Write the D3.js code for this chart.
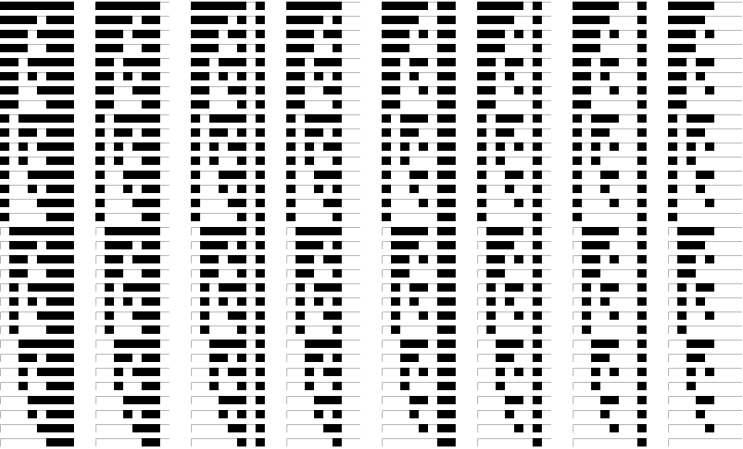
<!DOCTYPE html>
<html>
<head>
<meta charset="utf-8">
<script src="https://cdn.jsdelivr.net/npm/d3@7"></script>
<style>
html,body{margin:0;padding:0;background:#fff;}
svg{display:block;}
</style>
</head>
<body>
<svg id="chart" width="743" height="449"></svg>
<script>
// Each column holds 32 byte values (top row first); black cells are 1-bits, MSB on the left.
const col0 = [255,247,239,231,223,215,207,199,191,183,175,167,159,151,143,135,127,119,111,103,95,87,79,71,63,55,47,39,31,23,15,7];
const col1 = [254,246,238,230,222,214,206,198,190,182,174,166,158,150,142,134,126,118,110,102,94,86,78,70,62,54,46,38,30,22,14,6];
const col2 = [253,245,237,229,221,213,205,197,189,181,173,165,157,149,141,133,125,117,109,101,93,85,77,69,61,53,45,37,29,21,13,5];
const col3 = [252,244,236,228,220,212,204,196,188,180,172,164,156,148,140,132,124,116,108,100,92,84,76,68,60,52,44,36,28,20,12,4];
const col4 = [251,243,235,227,219,211,203,195,187,179,171,163,155,147,139,131,123,115,107,99,91,83,75,67,59,51,43,35,27,19,11,3];
const col5 = [250,242,234,226,218,210,202,194,186,178,170,162,154,146,138,130,122,114,106,98,90,82,74,66,58,50,42,34,26,18,10,2];
const col6 = [249,241,233,225,217,209,201,193,185,177,169,161,153,145,137,129,121,113,105,97,89,81,73,65,57,49,41,33,25,17,9,1];
const col7 = [248,240,232,224,216,208,200,192,184,176,168,160,152,144,136,128,120,112,104,96,88,80,72,64,56,48,40,32,24,16,8,0];
const columns = [col0, col1, col2, col3, col4, col5, col6, col7];
const bits = [0,1,2,3,4,5,6,7];

const W = 743, H = 449;
const svg = d3.select("#chart");

const x = d3.scaleBand().domain(d3.range(columns.length)).range([0, 742]).paddingInner(0.225).paddingOuter(0);
const bx = d3.scaleBand().domain(bits).range([0, x.bandwidth()]).padding(0);
const rowsN = col0.length;
const y = d3.scaleBand().domain(d3.range(rowsN)).range([1.7, 1.7 + rowsN * 14.08]).paddingInner(0).paddingOuter(0);
const barH = y.step() * 0.59;

function runs(v) {
  const out = [];
  let start = null;
  bits.forEach(b => {
    const on = (v >> (7 - b)) & 1;
    if (on && start === null) start = b;
    if (!on && start !== null) { out.push([start, b - 1]); start = null; }
  });
  if (start !== null) out.push([start, 7]);
  return out;
}

const g = svg.selectAll("g.col").data(columns).join("g")
  .attr("class", "col")
  .attr("transform", (d, i) => `translate(${x(i)},0)`);

const row = g.selectAll("g.row").data(d => d.map((v, r) => ({v, r}))).join("g")
  .attr("class", "row")
  .attr("transform", d => `translate(0,${y(d.r)})`);

row.append("path")
  .attr("fill", "none")
  .attr("stroke", "#b8b8b8")
  .attr("stroke-width", 1)
  .attr("d", `M0.5,${barH}V0.5H${x.bandwidth()}`);

row.selectAll("rect").data(d => runs(d.v)).join("rect")
  .attr("x", d => bx(d[0]))
  .attr("y", 0)
  .attr("width", d => bx(d[1]) + bx.bandwidth() - bx(d[0]))
  .attr("height", barH)
  .attr("fill", "#000");
</script>
</body>
</html>
